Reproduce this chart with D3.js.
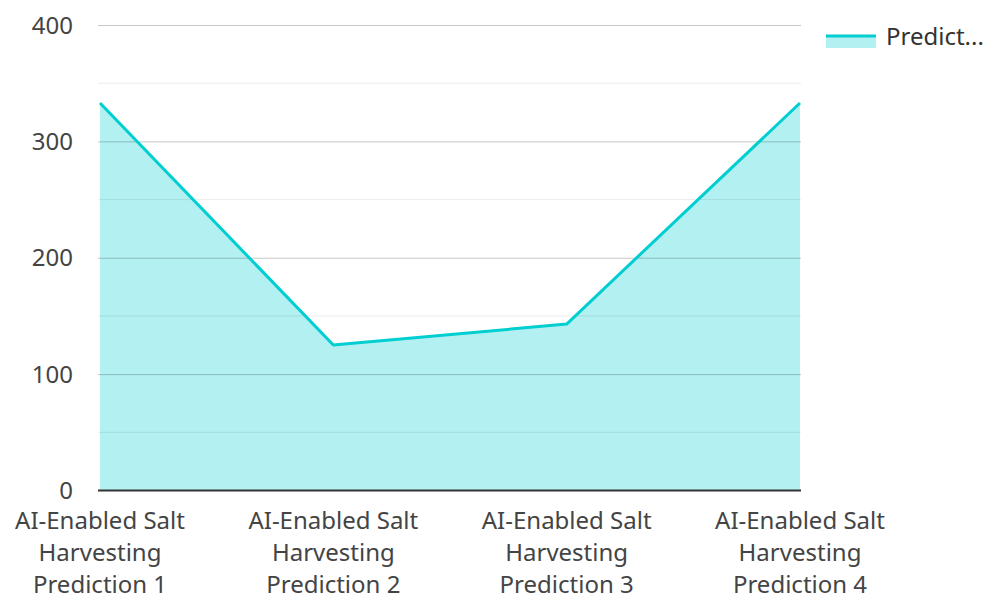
<!doctype html>
<html>
<head>
<meta charset="utf-8">
<title>Predictions</title>
<script src="https://d3js.org/d3.v7.min.js"></script>
<style>
  body { margin: 0; background: #fff; }
  svg, svg text { font-family: "Noto Sans", "Open Sans", sans-serif; }
  .tick text { fill: #444; font-size: 24px; }
</style>
</head>
<body>
<script>
// chart data
var categories = [
  "AI-Enabled Salt Harvesting Prediction 1",
  "AI-Enabled Salt Harvesting Prediction 2",
  "AI-Enabled Salt Harvesting Prediction 3",
  "AI-Enabled Salt Harvesting Prediction 4"
];
var labelLines = [
  ["AI-Enabled Salt", "Harvesting", "Prediction 1"],
  ["AI-Enabled Salt", "Harvesting", "Prediction 2"],
  ["AI-Enabled Salt", "Harvesting", "Prediction 3"],
  ["AI-Enabled Salt", "Harvesting", "Prediction 4"]
];
var values = [333, 125, 143, 333];
var yTicks = [0, 100, 200, 300, 400];
var yMinor = [50, 150, 250, 350];
var seriesName = "Predict...";

var w = 988, h = 596;
var plotLeft = 100, plotRight = 800, plotTop = 25, plotBottom = 490.5;
var lineColor = "#00ced1";

var svg = d3.select("body").append("svg")
    .attr("width", w)
    .attr("height", h);

var x = d3.scalePoint().domain(categories).range([plotLeft, plotRight]);
var y = d3.scaleLinear().domain([0, 400]).range([plotBottom, plotTop]);

// area first, grid over it
var area = d3.area()
    .x(function(d, i) { return x(categories[i]); })
    .y0(y(0))
    .y1(function(d) { return y(d); });

svg.append("path")
    .datum(values)
    .attr("d", area)
    .attr("fill", lineColor)
    .attr("fill-opacity", 0.3);

// minor grid
svg.append("g").selectAll("line")
    .data(yMinor)
    .enter().append("line")
    .attr("x1", plotLeft - 2).attr("x2", plotRight + 1)
    .attr("y1", function(d) { return y(d); })
    .attr("y2", function(d) { return y(d); })
    .attr("stroke", "#000")
    .attr("stroke-opacity", 0.08)
    .attr("stroke-width", 1);

// y axis with major grid
var yAxis = svg.append("g")
    .attr("transform", "translate(" + (plotLeft - 2) + ",0)")
    .call(d3.axisLeft(y).tickValues(yTicks).tickSize(-(plotRight - plotLeft + 3)).tickPadding(25));
yAxis.attr("font-family", null).attr("font-size", null);
yAxis.select(".domain").remove();
yAxis.selectAll(".tick line")
    .attr("stroke", "#000")
    .attr("stroke-opacity", 0.22);
yAxis.selectAll(".tick").filter(function(d) { return d === 0; }).select("line").remove();
yAxis.selectAll(".tick text").attr("dy", "0.34em");

// line
svg.append("path")
    .datum(values)
    .attr("d", d3.line()
        .x(function(d, i) { return x(categories[i]); })
        .y(function(d) { return y(d); }))
    .attr("fill", "none")
    .attr("stroke", lineColor)
    .attr("stroke-width", 3)
    .attr("stroke-linejoin", "round");

// baseline
svg.append("line")
    .attr("x1", plotLeft - 2).attr("x2", plotRight + 1)
    .attr("y1", plotBottom).attr("y2", plotBottom)
    .attr("stroke", "#333")
    .attr("stroke-width", 2);

// x labels
var xl = svg.append("g").selectAll("text")
    .data(categories)
    .enter().append("text")
    .attr("text-anchor", "middle")
    .attr("fill", "#444")
    .style("font-size", "24px")
    .attr("x", function(d) { return x(d); })
    .attr("y", 529);
xl.selectAll("tspan")
    .data(function(d, i) { return labelLines[i]; })
    .enter().append("tspan")
    .attr("x", function() { return x(d3.select(this.parentNode).datum()); })
    .attr("dy", function(d, i) { return i === 0 ? 0 : 32; })
    .text(function(d) { return d; });

// legend
var lg = svg.append("g").attr("transform", "translate(826,0)");
lg.append("rect")
    .attr("x", 0).attr("y", 36)
    .attr("width", 50).attr("height", 12)
    .attr("fill", lineColor)
    .attr("fill-opacity", 0.3);
lg.append("line")
    .attr("x1", 0).attr("x2", 50)
    .attr("y1", 36).attr("y2", 36)
    .attr("stroke", lineColor)
    .attr("stroke-width", 3);
lg.append("text")
    .attr("x", 60).attr("y", 45)
    .attr("fill", "#333")
    .style("font-size", "24px")
    .text(seriesName);
</script>
</body>
</html>
